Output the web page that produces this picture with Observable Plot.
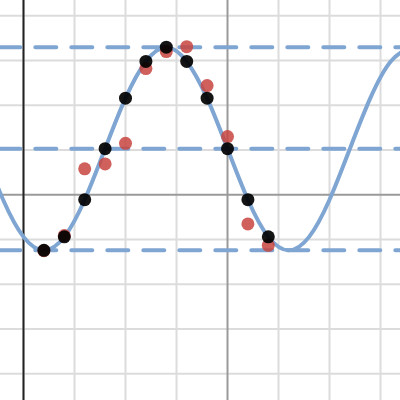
<!DOCTYPE html>
<html>
<head>
<meta charset="utf-8">
<script src="https://cdn.jsdelivr.net/npm/d3@7"></script>
<script src="https://cdn.jsdelivr.net/npm/@observablehq/plot@0.6"></script>
<style>
  html, body { margin: 0; padding: 0; background: #fff; }
  svg { display: block; }
</style>
</head>
<body>
<div id="chart"></div>
<script>
// Grid tick positions (units)
const gridXTicks = [-4, -3, -2, -1, 0, 1, 2, 3];
const gridYTicks = [-4, -3, -2, -1, 0, 1, 2, 3, 4];

// Sample x positions of the points
const sampleX = [-3.6, -3.2, -2.8, -2.4, -2.0, -1.6, -1.2, -0.8, -0.4, 0, 0.4, 0.8];
// Observed (red) values
const observedY = [-1.25, -0.91, 0.58, 0.69, 1.15, 2.82, 3.20, 3.31, 2.44, 1.30, -0.65, -1.13];
// Model (black) values
const modelY = [-1.24, -0.94, -0.11, 1.03, 2.16, 2.98, 3.30, 2.98, 2.16, 1.03, -0.11, -0.94];

// Curve points
const curveX = [-4.8, -4.4, -4.0, -3.6, -3.2, -2.8, -2.4, -2.0, -1.6, -1.2, -0.8, -0.4, 0, 0.4, 0.8, 1.2, 1.6, 2.0, 2.4, 2.8, 3.2, 3.6];
const curveY = [1.03, -0.11, -0.94, -1.24, -0.94, -0.11, 1.03, 2.16, 2.98, 3.30, 2.98, 2.16, 1.03, -0.11, -0.94, -1.24, -0.94, -0.11, 1.03, 2.16, 2.98, 3.30];

// Horizontal reference lines: max, midline, min
const refLines = [3.30, 1.03, -1.24];
// Black vertical line
const markerX = [-4];

const points = sampleX.map((x, i) => ({x, obs: observedY[i], model: modelY[i]}));
const curve = curveX.map((x, i) => ({x, y: curveY[i]}));

const chart = Plot.plot({
  width: 400,
  height: 400,
  margin: 0,
  x: {domain: [-4.451, 3.392], axis: null},
  y: {domain: [-4.597, 4.342], axis: null},
  marks: [
    Plot.ruleX(gridXTicks.filter(d => d !== 0), {stroke: "#dcdcdc", strokeWidth: 2}),
    Plot.ruleY(gridYTicks.filter(d => d !== 0), {stroke: "#dcdcdc", strokeWidth: 2}),
    Plot.ruleX([0], {stroke: "#9a9a9a", strokeWidth: 2}),
    Plot.ruleY([0], {stroke: "#9a9a9a", strokeWidth: 2}),
    Plot.ruleX(markerX, {stroke: "#222", strokeWidth: 2}),
    Plot.ruleY(refLines, {stroke: "#7fa5d2", strokeWidth: 4, strokeDasharray: "21,15", strokeDashoffset: 0.7, strokeLinecap: "round"}),
    Plot.line(curve, {x: "x", y: "y", curve: "natural", stroke: "#7fa5d2", strokeWidth: 4}),
    Plot.dot(points, {x: "x", y: "obs", r: 6.5, fill: "#c74440", fillOpacity: 0.85, stroke: "none"}),
    Plot.dot(points, {x: "x", y: "model", r: 6.5, fill: "#000", fillOpacity: 0.92, stroke: "none"})
  ]
});
document.getElementById("chart").appendChild(chart);
</script>
</body>
</html>
